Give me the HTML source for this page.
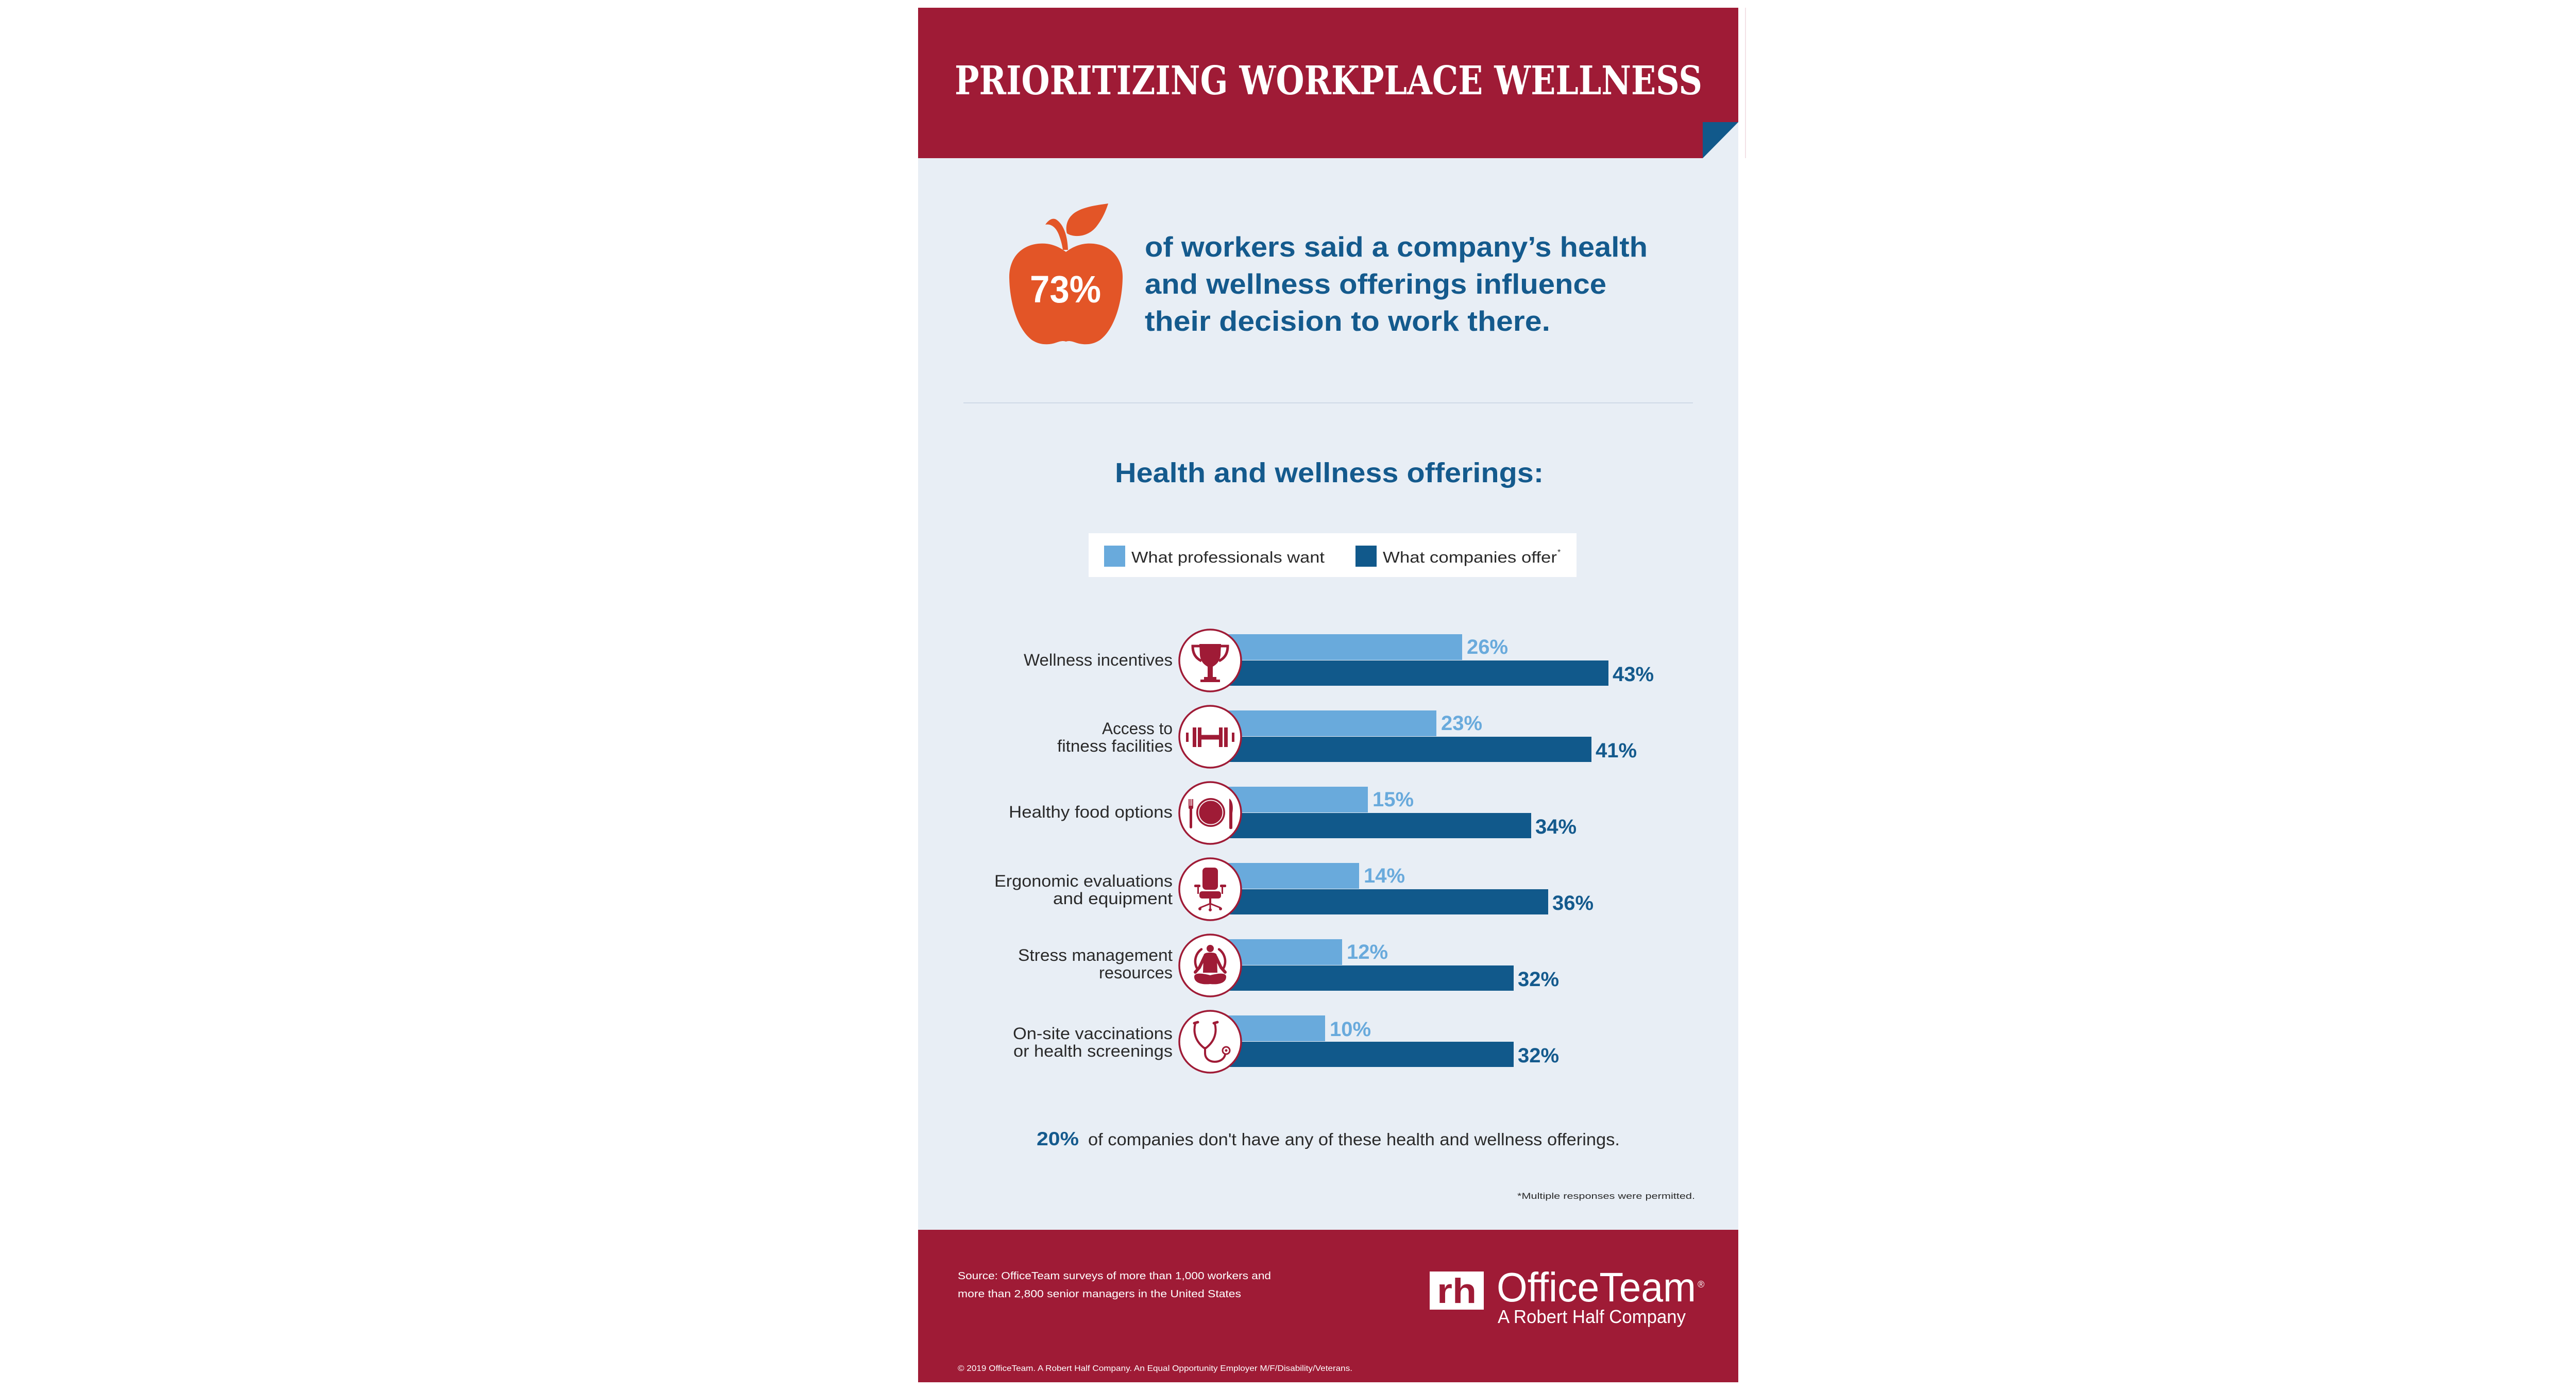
<!DOCTYPE html>
<html>
<head>
<meta charset="utf-8">
<style>
html,body{margin:0;padding:0;background:#fff;}
svg{display:block;}
.sans{font-family:"Liberation Sans",sans-serif;}
.slab{font-family:"DejaVu Serif","Liberation Serif",serif;}
</style>
</head>
<body>
<svg xmlns="http://www.w3.org/2000/svg" width="5157" height="2698" viewBox="0 0 5157 2698">
<rect width="5157" height="2698" fill="#ffffff"/>
<!-- panel background -->
<rect x="1782" y="15" width="1592" height="2668" fill="#e8eef5"/>

<!-- header -->
<path d="M1782 15 H3374 V237 H3305 V307 H1782 Z" fill="#9f1b36"/>
<path d="M3305 237 H3374 L3305 307 Z" fill="#11598b"/>
<rect x="3387" y="15" width="2" height="292" fill="#f3e2e6"/>
<text class="slab" x="1853" y="183" font-size="77" font-weight="bold" fill="#ffffff" textLength="1451" lengthAdjust="spacingAndGlyphs">PRIORITIZING WORKPLACE WELLNESS</text>

<!-- apple -->
<g fill="#e35527">
<path d="M2069 489 C2052 476 2034 471 2015 473 C1978 477 1958 505 1959 540 C1960 590 1976 640 2003 660 C2018 670 2036 670 2050 665 C2058 662 2064 661 2069 663 C2074 661 2080 662 2088 665 C2102 670 2120 670 2135 660 C2162 640 2178 590 2179 540 C2180 505 2160 477 2123 473 C2104 471 2086 476 2069 489 Z"/>
<path d="M2063 485 L2073 485 C2072 458 2065 436 2050 426 C2043 422 2035 427 2029 436 C2039 434 2049 440 2055 455 C2060 468 2062 478 2063 485 Z"/>
<path d="M2071 453 C2085 462 2112 460 2128 440 C2140 425 2147 408 2151 395 C2130 398 2095 402 2080 418 C2070 428 2068 442 2071 453 Z"/>
</g>
<text class="sans" x="1999" y="587" font-size="74" font-weight="bold" fill="#ffffff" textLength="138" lengthAdjust="spacingAndGlyphs">73%</text>

<!-- main statement -->
<g class="sans" font-size="55" font-weight="bold" fill="#145a8d">
<text x="2222" y="498" textLength="976" lengthAdjust="spacingAndGlyphs">of workers said a company’s health</text>
<text x="2222" y="570" textLength="896" lengthAdjust="spacingAndGlyphs">and wellness offerings influence</text>
<text x="2222" y="642" textLength="787" lengthAdjust="spacingAndGlyphs">their decision to work there.</text>
</g>

<!-- divider -->
<rect x="1870" y="781" width="1416" height="2" fill="#cfdae6"/>

<!-- heading -->
<text class="sans" x="2164" y="936" font-size="54" font-weight="bold" fill="#145a8d" textLength="832" lengthAdjust="spacingAndGlyphs">Health and wellness offerings:</text>

<!-- legend -->
<rect x="2113" y="1035" width="947" height="85" fill="#ffffff"/>
<rect x="2143" y="1059" width="41" height="41" fill="#69aadc"/>
<text class="sans" x="2196" y="1092" font-size="31" fill="#2a2a2a" textLength="375" lengthAdjust="spacingAndGlyphs">What professionals want</text>
<rect x="2631" y="1059" width="41" height="41" fill="#11598b"/>
<text class="sans" x="2684" y="1092" font-size="31" fill="#2a2a2a" textLength="338" lengthAdjust="spacingAndGlyphs">What companies offer</text>
<text class="sans" x="3023" y="1077" font-size="16" fill="#2a2a2a">*</text>

<!-- bars -->
<g>
<rect x="2349" y="1231" width="489" height="50" fill="#69aadc"/>
<rect x="2349" y="1282" width="773" height="49" fill="#11598b"/>
<rect x="2349" y="1379" width="439" height="50" fill="#69aadc"/>
<rect x="2349" y="1430" width="740" height="49" fill="#11598b"/>
<rect x="2349" y="1527" width="306" height="50" fill="#69aadc"/>
<rect x="2349" y="1578" width="623" height="49" fill="#11598b"/>
<rect x="2349" y="1675" width="289" height="50" fill="#69aadc"/>
<rect x="2349" y="1726" width="656" height="49" fill="#11598b"/>
<rect x="2349" y="1823" width="256" height="50" fill="#69aadc"/>
<rect x="2349" y="1874" width="589" height="49" fill="#11598b"/>
<rect x="2349" y="1971" width="223" height="50" fill="#69aadc"/>
<rect x="2349" y="2022" width="589" height="49" fill="#11598b"/>
</g>

<!-- value labels -->
<g class="sans" font-size="40" font-weight="bold">
<text x="2847" y="1269" fill="#69aadc">26%</text>
<text x="3130" y="1322" fill="#145a8d">43%</text>
<text x="2797" y="1417" fill="#69aadc">23%</text>
<text x="3097" y="1470" fill="#145a8d">41%</text>
<text x="2664" y="1565" fill="#69aadc">15%</text>
<text x="2980" y="1618" fill="#145a8d">34%</text>
<text x="2647" y="1713" fill="#69aadc">14%</text>
<text x="3013" y="1766" fill="#145a8d">36%</text>
<text x="2614" y="1861" fill="#69aadc">12%</text>
<text x="2946" y="1914" fill="#145a8d">32%</text>
<text x="2581" y="2011" fill="#69aadc">10%</text>
<text x="2946" y="2062" fill="#145a8d">32%</text>
</g>

<!-- circles -->
<g fill="#ffffff" stroke="#9f1b36" stroke-width="3.5">
<circle cx="2349" cy="1282" r="60"/>
<circle cx="2349" cy="1430" r="60"/>
<circle cx="2349" cy="1578" r="60"/>
<circle cx="2349" cy="1726" r="60"/>
<circle cx="2349" cy="1874" r="60"/>
<circle cx="2349" cy="2022" r="60"/>
</g>

<!-- icons -->
<g fill="#9f1b36">
<!-- trophy -->
<g transform="translate(2349,1282)">
<path d="M-21 -32 H21 L20 -10 C18 4 10 9 5 12 V33 H-5 V12 C-10 9 -18 4 -20 -10 Z"/>
<path d="M-20 -28 H-34 C-34 -12 -27 -4 -17 1 M20 -28 H34 C34 -12 27 -4 17 1" fill="none" stroke="#9f1b36" stroke-width="5"/>
<rect x="-12" y="32" width="24" height="6"/>
<rect x="-19" y="37" width="38" height="5"/>
</g>
<!-- dumbbell -->
<g transform="translate(2349,1431)">
<rect x="-17" y="-4.5" width="34" height="9"/>
<rect x="-34" y="-19" width="7" height="38"/>
<rect x="-24" y="-19" width="7" height="38"/>
<rect x="17" y="-19" width="7" height="38"/>
<rect x="27" y="-19" width="7" height="38"/>
<rect x="-47" y="-9" width="5" height="18"/>
<rect x="42" y="-9" width="5" height="18"/>
</g>
<!-- plate -->
<g transform="translate(2349,1578)">
<rect x="-42" y="-27" width="2" height="15"/>
<rect x="-38.5" y="-27" width="2" height="15"/>
<rect x="-35" y="-27" width="2" height="15"/>
<rect x="-42" y="-14" width="9" height="6" rx="2"/>
<rect x="-40" y="-10" width="5" height="40" rx="2.5"/>
<circle cx="1" cy="-1" r="28"/>
<circle cx="1" cy="-1" r="23.5" fill="none" stroke="#ffffff" stroke-width="1.8"/>
<path d="M37 -28 C44 -24 45 -10 43 0 L43 29 C43 32 37 32 37 29 Z"/>
</g>
<!-- chair -->
<g transform="translate(2349,1726)">
<rect x="-15" y="-42" width="30" height="43" rx="7"/>
<rect x="-21" y="4" width="42" height="14" rx="5"/>
<rect x="-31" y="-9" width="12" height="5" rx="2"/>
<rect x="19" y="-9" width="12" height="5" rx="2"/>
<rect x="-25" y="-5" width="3" height="14"/>
<rect x="22" y="-5" width="3" height="14"/>
<rect x="-2" y="17" width="4" height="12"/>
<path d="M-20 36 L0 28 L20 36 M0 28 V38" fill="none" stroke="#9f1b36" stroke-width="3"/>
<circle cx="-20" cy="38" r="3"/>
<circle cx="0" cy="40" r="3"/>
<circle cx="20" cy="38" r="3"/>
</g>
<!-- meditation -->
<g transform="translate(2349,1874)">
<circle cx="0" cy="-33" r="7"/>
<path d="M-17 -31.5 A29 29 0 0 0 -26 5 M17 -31.5 A29 29 0 0 1 26 5" fill="none" stroke="#9f1b36" stroke-width="4.5" stroke-linecap="round"/>
<path d="M-13 -18 C-13 -24 -8 -25 0 -25 C8 -25 13 -24 13 -18 L14 14 L-14 14 Z"/>
<path d="M-11 -17 L-21 4 L-29 13 M11 -17 L21 4 L29 13" fill="none" stroke="#9f1b36" stroke-width="6" stroke-linecap="round" stroke-linejoin="round"/>
<path d="M-31 22 C-31 13 -15 15 0 19 C15 15 31 13 31 22 C31 33 18 38 0 36 C-18 38 -31 33 -31 22 Z"/>
</g>
<!-- stethoscope -->
<g transform="translate(2349,2022)">
<path d="M-29 -35 C-33 -20 -30 -2 -12 12 M9 -35 C13 -20 10 -2 -8 12 M-10 12 L-10 22 C-10 44 25 44 29 25" fill="none" stroke="#9f1b36" stroke-width="4" stroke-linecap="round"/>
<path d="M-31 -36 L-24 -38 M7 -36 L14 -38" fill="none" stroke="#9f1b36" stroke-width="5" stroke-linecap="round"/>
<circle cx="31" cy="17" r="7" fill="#ffffff" stroke="#9f1b36" stroke-width="3"/>
<circle cx="31" cy="17" r="2.5"/>
</g>
</g>

<!-- category labels -->
<g class="sans" font-size="32" fill="#2a2a2a" text-anchor="end">
<text x="2276" y="1292" textLength="289" lengthAdjust="spacingAndGlyphs">Wellness incentives</text>
<text x="2276" y="1425" textLength="137" lengthAdjust="spacingAndGlyphs">Access to</text>
<text x="2276" y="1459" textLength="224" lengthAdjust="spacingAndGlyphs">fitness facilities</text>
<text x="2276" y="1587" textLength="318" lengthAdjust="spacingAndGlyphs">Healthy food options</text>
<text x="2276" y="1721" textLength="346" lengthAdjust="spacingAndGlyphs">Ergonomic evaluations</text>
<text x="2276" y="1755" textLength="232" lengthAdjust="spacingAndGlyphs">and equipment</text>
<text x="2276" y="1865" textLength="300" lengthAdjust="spacingAndGlyphs">Stress management</text>
<text x="2276" y="1899" textLength="143" lengthAdjust="spacingAndGlyphs">resources</text>
<text x="2276" y="2017" textLength="310" lengthAdjust="spacingAndGlyphs">On-site vaccinations</text>
<text x="2276" y="2051" textLength="309" lengthAdjust="spacingAndGlyphs">or health screenings</text>
</g>

<!-- 20% statement -->
<text class="sans" x="2012" y="2223" font-size="37" font-weight="bold" fill="#145a8d" textLength="82" lengthAdjust="spacingAndGlyphs">20%</text>
<text class="sans" x="2112" y="2223" font-size="33" fill="#2a2a2a" textLength="1032" lengthAdjust="spacingAndGlyphs">of companies don't have any of these health and wellness offerings.</text>

<text class="sans" x="2945" y="2327" font-size="17" fill="#2a2a2a" textLength="345" lengthAdjust="spacingAndGlyphs">*Multiple responses were permitted.</text>

<!-- footer -->
<rect x="1782" y="2387" width="1592" height="296" fill="#9f1b36"/>
<g class="sans" fill="#ffffff">
<text x="1859" y="2483" font-size="20" textLength="608" lengthAdjust="spacingAndGlyphs">Source: OfficeTeam surveys of more than 1,000 workers and</text>
<text x="1859" y="2518" font-size="20" textLength="550" lengthAdjust="spacingAndGlyphs">more than 2,800 senior managers in the United States</text>
<text x="1859" y="2661" font-size="16" textLength="766" lengthAdjust="spacingAndGlyphs">© 2019 OfficeTeam. A Robert Half Company. An Equal Opportunity Employer M/F/Disability/Veterans.</text>
</g>
<!-- logo -->
<rect x="2775" y="2468" width="105" height="74" fill="#ffffff"/>
<text class="sans" x="2789" y="2529" font-size="68" font-weight="bold" fill="#9f1b36" textLength="77" lengthAdjust="spacingAndGlyphs">rh</text>
<text class="sans" x="2905" y="2526" font-size="80" fill="#ffffff" textLength="387" lengthAdjust="spacingAndGlyphs">OfficeTeam</text>
<text class="sans" x="3295" y="2499" font-size="18" fill="#ffffff">®</text>
<text class="sans" x="2907" y="2568" font-size="36" fill="#ffffff" textLength="365" lengthAdjust="spacingAndGlyphs">A Robert Half Company</text>
</svg>
</body>
</html>
